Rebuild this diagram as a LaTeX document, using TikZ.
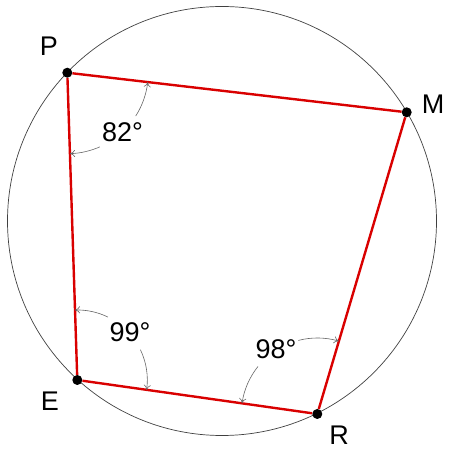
\documentclass[tikz,border=0pt]{standalone}
\usepackage{fontspec}
\setmainfont{Liberation Sans}
\usetikzlibrary{arrows.meta}
\tikzset{Vertex/.style={%
    shape=circle,%
    fill=black,%
    inner sep=0pt,%
    minimum size=10pt,%
}}
\tikzset{VertexName/.style={%
    font=\fontsize{27}{30}\selectfont,%
    inner sep=0pt,%
}}
\tikzset{SideEdge/.style={%
    draw=red!85!black,%
    line width=2.4pt,%
}}
\tikzset{Rim/.style={%
    draw=black!75,%
    line width=0.7pt,%
}}
\tikzset{AngleArc/.style={%
    -{To[length=5pt,width=7pt]},%
    draw=black!60,%
    line width=0.6pt,%
}}
\NewDocumentCommand{\angleLabel}{m}{%
    #1°%
}

\begin{document}
\begin{tikzpicture}[x=1pt, y=1pt]
    \useasboundingbox (0,0) rectangle (450,460);
    \coordinate (O) at (222,239);
    \draw[Rim] (O) circle[radius=214.5];

    \node[Vertex] (P) at (67.3,387.3) {};
    \node[Vertex] (M) at (406.7,347.7) {};
    \node[Vertex] (R) at (317.3,46) {};
    \node[Vertex] (E) at (77.3,80) {};

    \node[VertexName] (lP) at (49,414) {P};
    \node[VertexName] (lM) at (433,356) {M};
    \node[VertexName] (lE) at (50,58.5) {E};
    \node[VertexName] (lR) at (339,24.5) {R};

    \path (P) edge[SideEdge] (M);
    \path (M) edge[SideEdge] (R);
    \path (R) edge[SideEdge] (E);
    \path (E) edge[SideEdge] (P);

    % angle at P
    \node[VertexName] (aP) at (122.5,328) {\angleLabel{82}};
    \draw[AngleArc] ([shift={(-32.4:81)}]P.center) arc[start angle=-32.4, end angle=-6.7, radius=81];
    \draw[AngleArc] ([shift={(-66.3:81)}]P.center) arc[start angle=-66.3, end angle=-88.1, radius=81];
    % angle at E
    \node[VertexName] (aE) at (130,128) {\angleLabel{99}};
    \draw[AngleArc] ([shift={(64:70)}]E.center) arc[start angle=64, end angle=91.9, radius=70];
    \draw[AngleArc] ([shift={(25.6:70)}]E.center) arc[start angle=25.6, end angle=-8.1, radius=70];
    % angle at R
    \node[VertexName] (aR) at (276,111) {\angleLabel{98}};
    \draw[AngleArc] ([shift={(104.5:76)}]R.center) arc[start angle=104.5, end angle=73.5, radius=76];
    \draw[AngleArc] ([shift={(141.3:76)}]R.center) arc[start angle=141.3, end angle=171.9, radius=76];
\end{tikzpicture}
\end{document}
